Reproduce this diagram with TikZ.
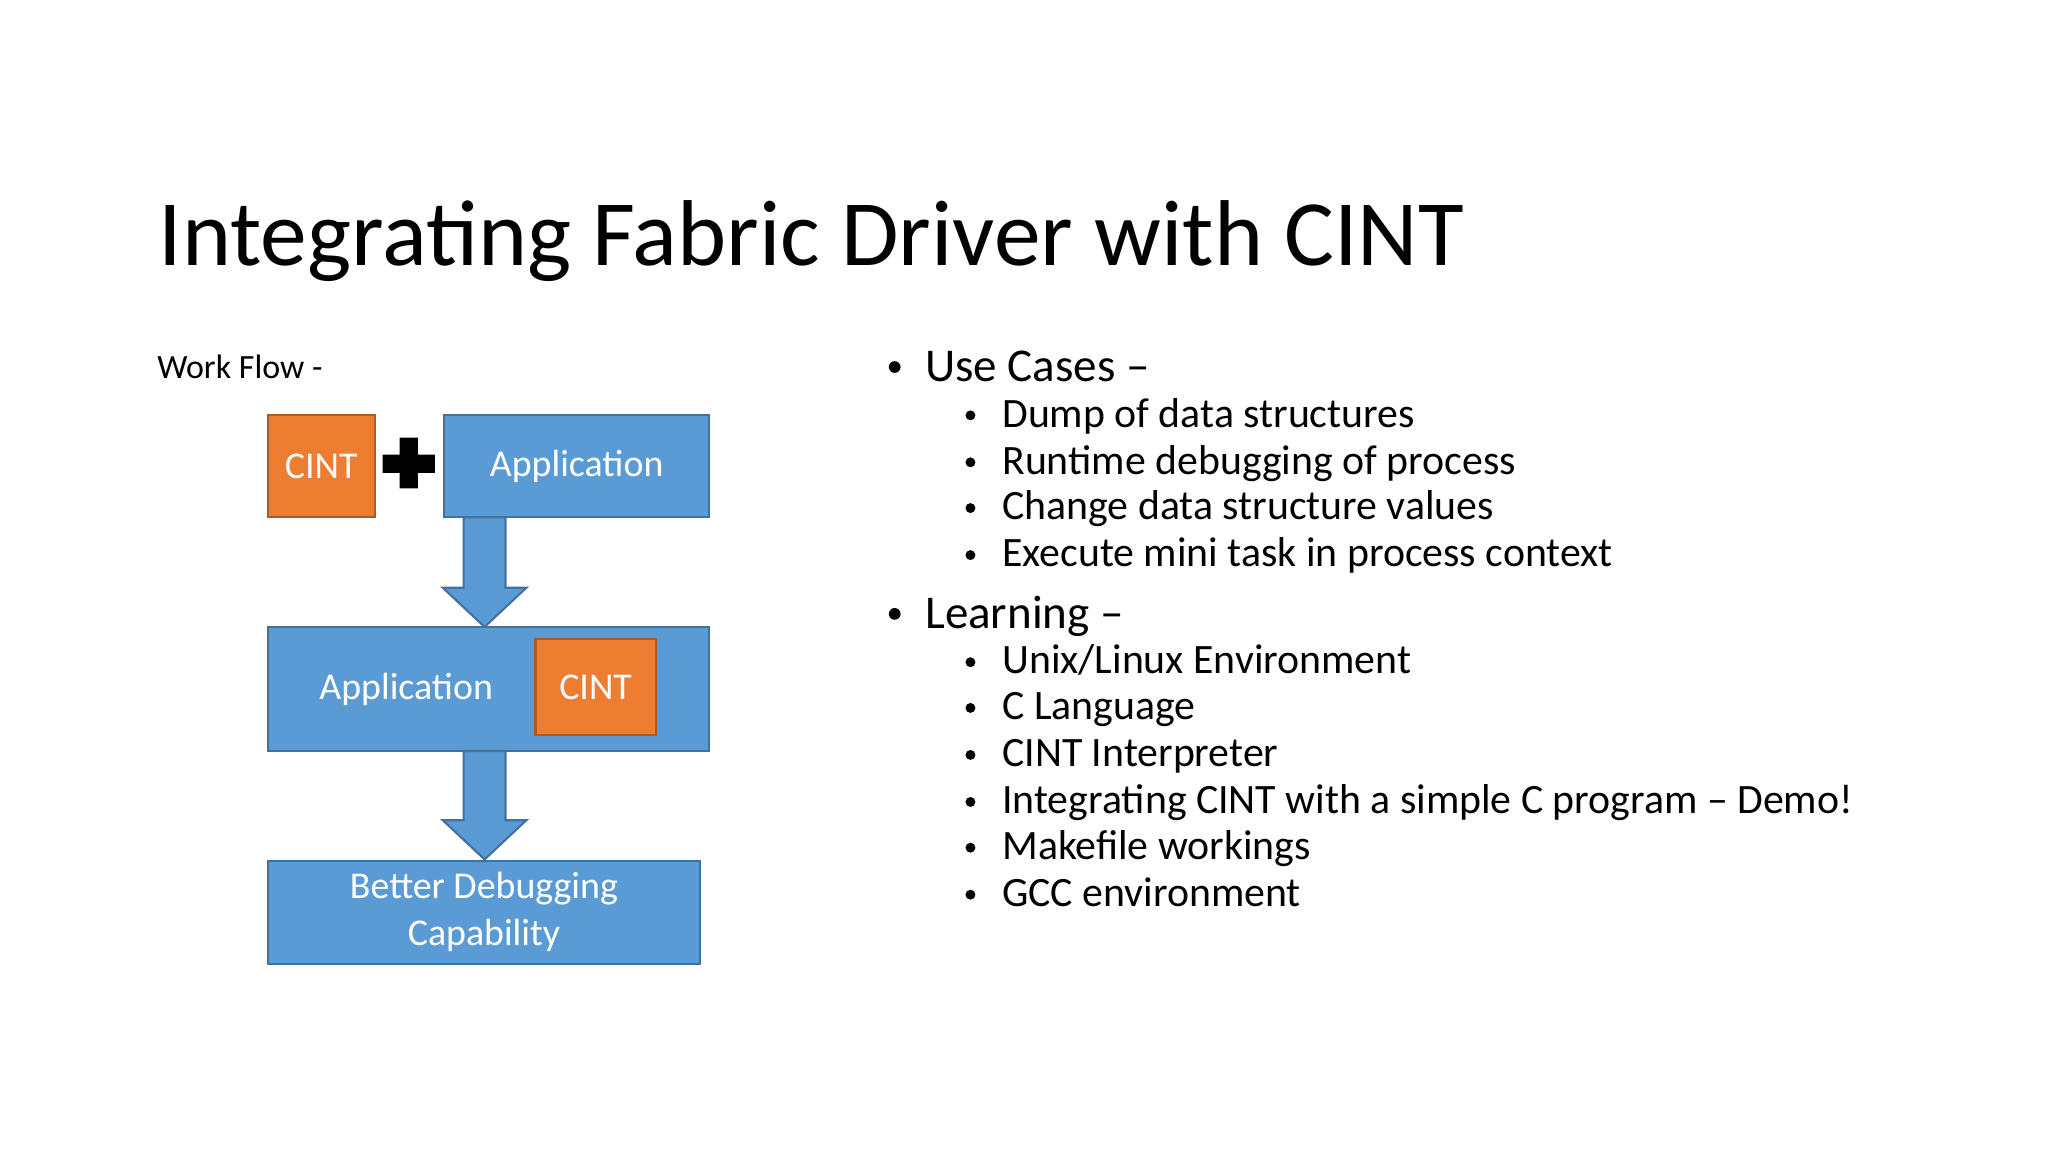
\documentclass[tikz,border=0pt]{standalone}
\usepackage{fontspec}
\setmainfont{Carlito}
\definecolor{bfill}{HTML}{5B9BD5}
\definecolor{bdraw}{HTML}{41719C}
\definecolor{ofill}{HTML}{ED7D31}
\definecolor{odraw}{HTML}{AE5A21}
\begin{document}
\begin{tikzpicture}[x=0.5pt,y=-0.5pt,
  bbox/.style={draw=bdraw,fill=bfill,line width=0.8pt,text=white,font=\fontsize{14.5}{17}\selectfont,inner sep=0pt},
  obox/.style={draw=odraw,fill=ofill,line width=0.8pt,text=white,font=\fontsize{14.5}{17}\selectfont,inner sep=0pt},
  barrow/.style={draw=bdraw,fill=bfill,line width=0.8pt},
  lone/.style={anchor=base west,inner sep=0pt,font=\fontsize{18}{20}\selectfont},
  ltwo/.style={anchor=base west,inner sep=0pt,font=\fontsize{16}{18}\selectfont}]
\useasboundingbox (0,0) rectangle (1568,882);
\node[anchor=base west,inner sep=0pt,font=\fontsize{35.8}{44}\selectfont] (title) at (121,203) {Integrating Fabric Driver with CINT};
\node[anchor=base west,inner sep=0pt,font=\fontsize{13}{15}\selectfont] (wf) at (120,290) {Work Flow -};
% boxes
\node[obox,minimum width=41pt,minimum height=39pt] (c1) at (246,357) {CINT};
\node[bbox,minimum width=101.5pt,minimum height=39pt] (a1) at (441.5,357) {Application};
\fill[black] (306,335) rectangle (320,374) (293,348) rectangle (333,362);
\node[bbox,minimum width=169pt,minimum height=47.5pt] (a2) at (374,527.5) {};
\node[text=white,font=\fontsize{14.5}{17}\selectfont] (a2t) at (311,528) {Application};
\node[obox,minimum width=46pt,minimum height=37pt] (c2) at (456,526) {CINT};
\node[bbox,minimum width=165.5pt,minimum height=39.5pt,align=center,font=\fontsize{14.5}{18}\selectfont] (a3) at (370.5,698.5) {Better Debugging\\Capability};
% arrows
\draw[barrow] (355,396) -- (387,396) -- (387,450) -- (403,450) -- (371,480) -- (339,450) -- (355,450) -- cycle;
\draw[barrow] (355,575) -- (387,575) -- (387,628) -- (403,628) -- (371,658) -- (339,628) -- (355,628) -- cycle;
% bullets
\foreach \t/\y [count=\i] in {{Use Cases –}/292, {Learning –}/481}{
  \node[circle,fill=black,inner sep=0pt,minimum size=4.5pt] (b\i) at (685,\y-11) {};
  \node[lone] (l\i) at (708,\y) {\t};
}
\foreach \t/\y [count=\i] in {{Dump of data structures}/327, {Runtime debugging of process}/363, {Change data structure values}/398, {Execute mini task in process context}/434, {Unix/Linux Environment}/516, {C Language}/551, {CINT Interpreter}/587, {Integrating CINT with a simple C program – Demo!}/623, {Makefile workings}/658, {GCC environment}/694}{
  \node[circle,fill=black,inner sep=0pt,minimum size=3.8pt] (s\i) at (743,\y-9) {};
  \node[ltwo] (t\i) at (767,\y) {\t};
}
\end{tikzpicture}
\end{document}
